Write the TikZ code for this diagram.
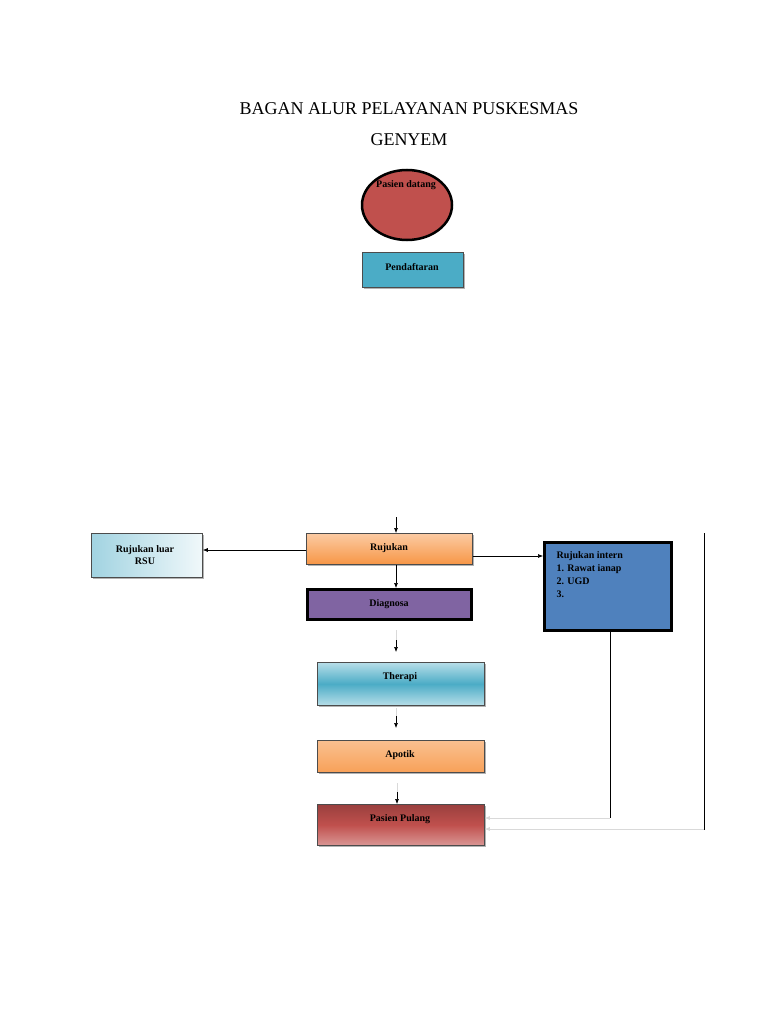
\documentclass[tikz,border=0pt]{standalone}
\usepackage{fontspec}
\setmainfont{Liberation Serif}
\usetikzlibrary{shadows,arrows.meta,shapes.geometric}
\definecolor{cred}{HTML}{C0504D}
\definecolor{cteal}{HTML}{4BACC6}
\definecolor{corange}{HTML}{F79646}
\definecolor{cblue}{HTML}{4F81BD}
\definecolor{cpurple}{HTML}{8064A2}
\definecolor{clight}{HTML}{B7DDE8}
\begin{document}
\begin{tikzpicture}[x=1pt,y=-1pt,
  box/.style={draw=black!70,line width=0.8pt,drop shadow={opacity=0.6,shadow xshift=1.5pt,shadow yshift=-1.5pt},font=\bfseries\fontsize{10}{12}\selectfont,inner sep=0pt,anchor=north west},
  arr/.style={-{Latex[length=5pt,width=4pt]},line width=0.6pt},
  garr/.style={-{Latex[length=5pt,width=4pt]},line width=0.6pt,draw=black!15}]
\useasboundingbox (0,0) rectangle (768,1024);
\node[font=\fontsize{18}{31}\selectfont,align=center] (title) at (409,124) {BAGAN ALUR PELAYANAN PUSKESMAS\\GENYEM};
\node[ellipse,draw=black,line width=2.5pt,fill=cred,minimum width=90pt,minimum height=70pt,inner sep=0pt] (ps) at (407,205) {};
\node[font=\bfseries\fontsize{10}{12}\selectfont] (pst) at (406,185) {Pasien datang};
\node[box,fill=cteal,minimum width=101pt,minimum height=35pt] (pd) at (362,252) {};
\node[font=\bfseries\fontsize{10}{12}\selectfont] (pdt) at (412,267) {Pendaftaran};
\coordinate (in) at (396,517);
\node[box,top color=corange!50,bottom color=corange,minimum width=166pt,minimum height=31pt] (rj) at (306,533) {};
\node[font=\bfseries\fontsize{10}{12}\selectfont] at (389,548) {Rujukan};
\node[box,left color=clight!80!cteal,right color=white!80!clight,minimum width=111pt,minimum height=44pt] (rl) at (91,533) {};
\node[font=\bfseries\fontsize{10}{12}\selectfont,align=center] at (145,555) {Rujukan luar\\RSU};
\node[box,draw=black,line width=2.5pt,fill=cblue,minimum width=127pt,minimum height=88pt] (ri) at (543,541) {};
\node[font=\bfseries\fontsize{10}{13}\selectfont,align=left,anchor=north west] at (553,548) {Rujukan intern\\1. Rawat ianap\\2. UGD\\3.};
\node[box,draw=black,line width=2.5pt,fill=cpurple,minimum width=164pt,minimum height=30pt] (dg) at (306,588) {};
\node[font=\bfseries\fontsize{10}{12}\selectfont] at (389,604) {Diagnosa};
\node[box,top color=cteal!40,bottom color=cteal!40,middle color=cteal,minimum width=167pt,minimum height=43pt] (th) at (317,662) {};
\node[font=\bfseries\fontsize{10}{12}\selectfont] at (400,677) {Therapi};
\node[box,top color=corange!60,bottom color=corange!90,minimum width=167pt,minimum height=32pt] (ap) at (317,740) {};
\node[font=\bfseries\fontsize{10}{12}\selectfont] at (400,755) {Apotik};
\node[box,top color=cred!80!black,bottom color=cred!60,middle color=cred,minimum width=167pt,minimum height=41pt] (pp) at (317,804) {};
\node[font=\bfseries\fontsize{10}{12}\selectfont] at (400,819) {Pasien Pulang};
\coordinate (rtop) at (704,533);
\coordinate (rbot) at (704,830);
\coordinate (c1) at (610,818);
\draw[arr] (in) -- (rj.north -| in);
\draw[arr] (rj.west |- 0,550) -- (rl.east |- 0,550);
\draw[arr] (rj.east |- 0,556) -- (ri.west |- 0,556);
\draw[arr] (rj.south -| in) -- (dg.north -| in);
\draw[black!15,line width=0.6pt] (396,630) -- (396,645);
\draw[arr] (396,640) -- (396,652);
\draw[black!15,line width=0.6pt] (396,708) -- (396,722);
\draw[arr] (396,716) -- (396,728);
\draw[black!15,line width=0.6pt] (397,783) -- (397,795);
\draw[arr] (397,792) -- (pp.north -| 397,0);
\draw[line width=0.6pt] (ri.south -| c1) -- (c1);
\draw[garr] (c1) -- (pp.east |- c1);
\draw[line width=0.8pt] (rtop) -- (rbot);
\draw[garr] (rbot |- 0,829) -- (pp.east |- 0,829);
\end{tikzpicture}
\end{document}
